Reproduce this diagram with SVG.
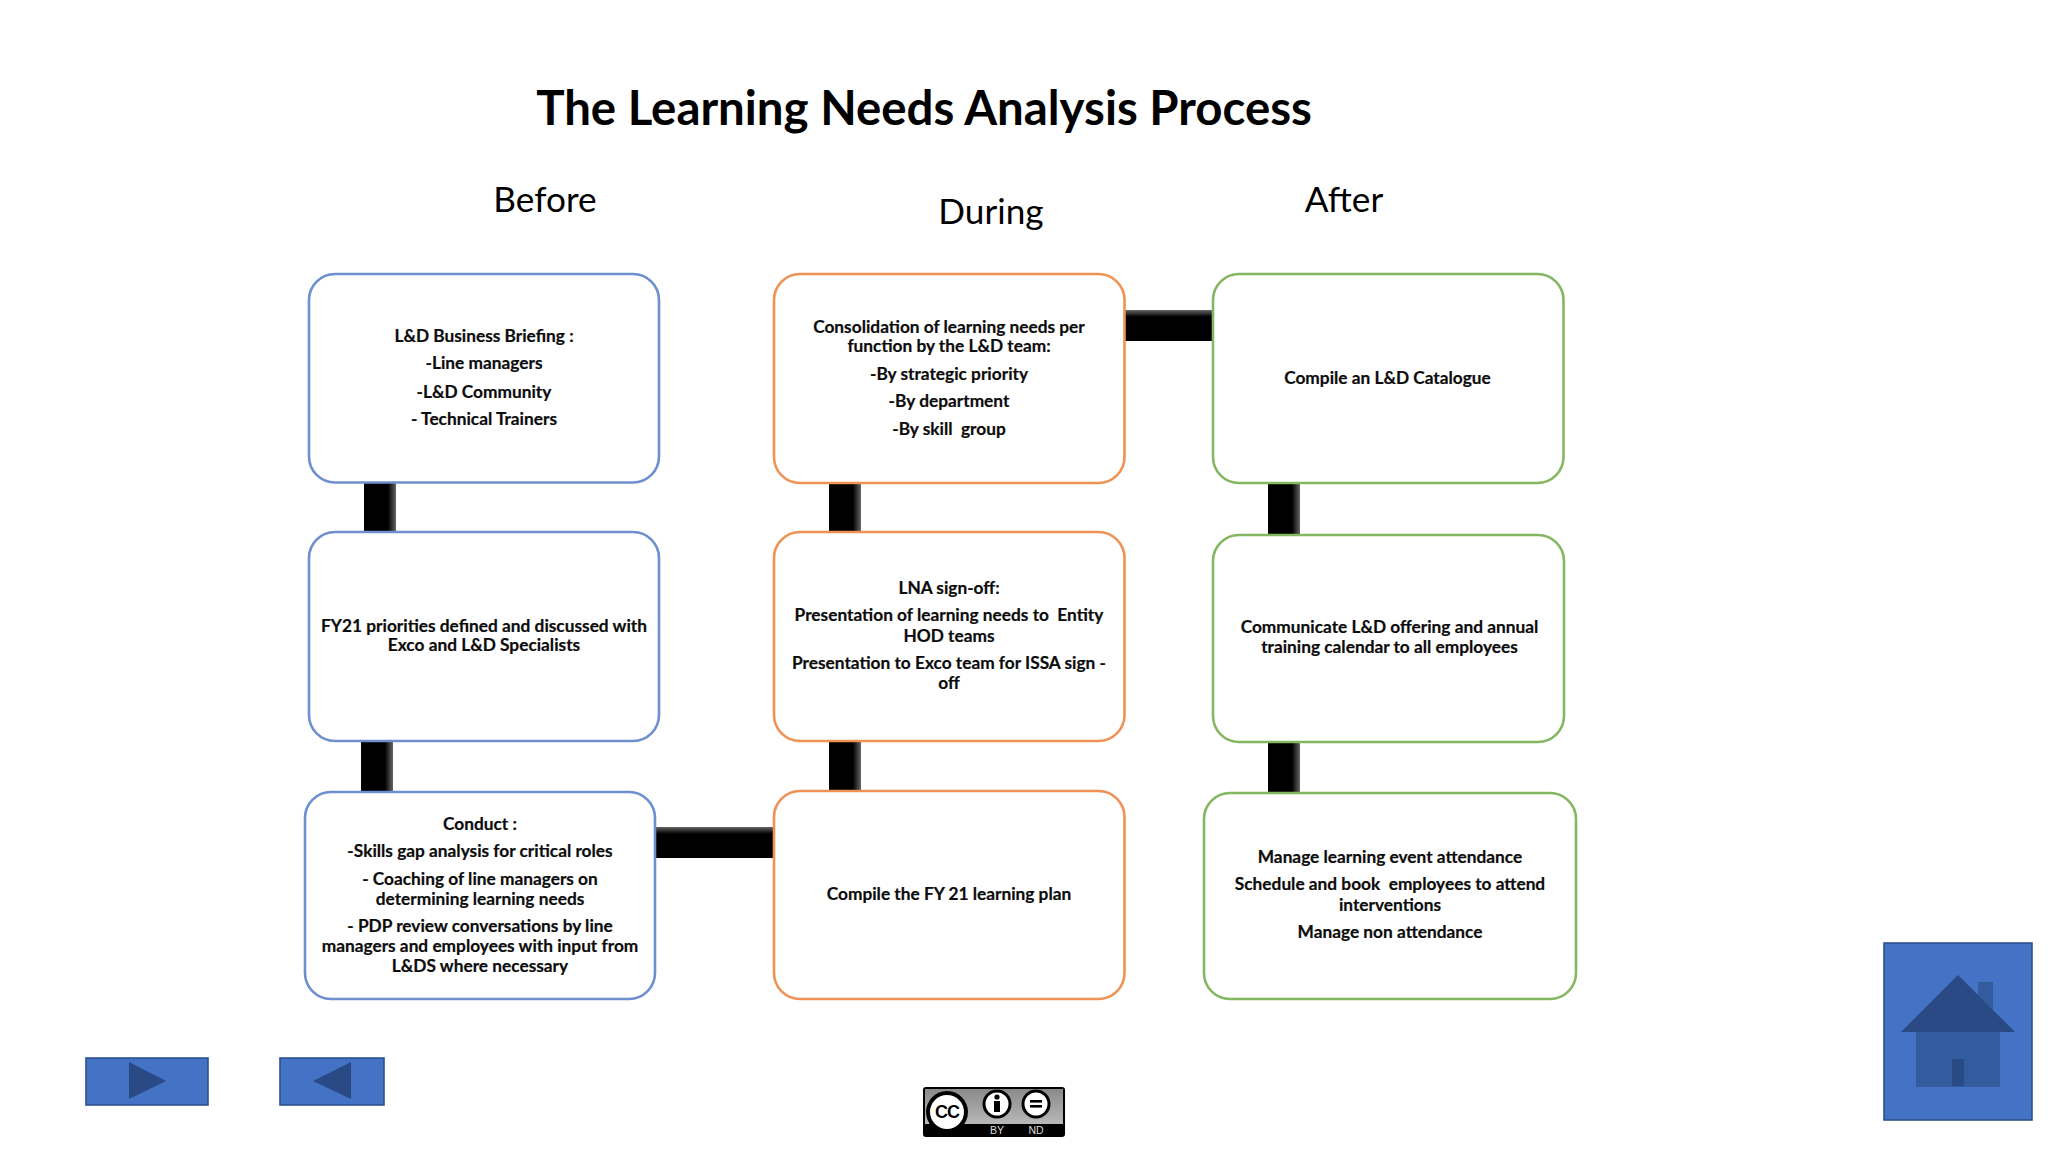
<svg xmlns="http://www.w3.org/2000/svg" width="2048" height="1152" viewBox="0 0 2048 1152">
<defs>
<linearGradient id="gv" x1="0" y1="0" x2="1" y2="0"><stop offset="0" stop-color="#000"/><stop offset="0.75" stop-color="#000"/><stop offset="1" stop-color="#666"/></linearGradient>
<linearGradient id="gh" x1="0" y1="0" x2="0" y2="1"><stop offset="0" stop-color="#666"/><stop offset="0.22" stop-color="#000"/><stop offset="1" stop-color="#000"/></linearGradient>
<linearGradient id="gs" x1="0" y1="0" x2="0" y2="1"><stop offset="0" stop-color="#8a8a8a"/><stop offset="1" stop-color="#b8b8b8"/></linearGradient>
</defs>
<style>
text{font-family:"Lato","Liberation Sans",sans-serif;fill:#000;text-anchor:middle;white-space:pre}
.t{font-size:47.4px;font-weight:700}
.h{font-size:35.2px}
.b{font-size:17.3px;font-weight:700;fill:#0c0c0c;stroke:#0c0c0c;stroke-width:.2px}
.n{fill:#fff;stroke-width:2.6}
.blue{stroke:#6e90cf}.orange{stroke:#ef9256}.green{stroke:#85b762}
.v{fill:url(#gv)}.hz{fill:url(#gh)}
.btn{fill:#4472c4;stroke:#2f528f;stroke-width:1.6}
.dk{fill:#2a4a85}.md{fill:#335c9e}
</style>
<rect width="2048" height="1152" fill="#fff"/>
<g id="title"><text class="t" x="924" y="125">The Learning Needs Analysis Process</text></g>
<g id="headers">
<text class="h" x="545" y="212">Before</text>
<text class="h" x="991" y="223.500">During</text>
<text class="h" x="1344" y="212">After</text>
</g>
<g id="connectors">
<rect class="v" x="364" y="483" width="32" height="49"/>
<rect class="v" x="361" y="741" width="32" height="50"/>
<rect class="hz" x="656" y="827" width="118" height="31"/>
<rect class="v" x="829" y="483" width="32" height="49"/>
<rect class="v" x="829" y="741" width="32" height="50"/>
<rect class="hz" x="1125" y="310" width="87" height="31"/>
<rect class="v" x="1268" y="483" width="32" height="51"/>
<rect class="v" x="1268" y="742" width="32" height="51"/>
</g>
<g id="b1"><rect class="n blue" x="309" y="274" width="350" height="208.500" rx="26"/>
<text class="b" x="484" y="341.500">L&amp;D Business Briefing :</text><text class="b" x="484" y="368.500">-Line managers</text><text class="b" x="484" y="397.500">-L&amp;D Community</text><text class="b" x="484" y="424.500">- Technical Trainers</text></g>
<g id="b2"><rect class="n blue" x="309" y="532" width="350" height="209" rx="26"/>
<text class="b" x="484" y="631.500">FY21 priorities defined and discussed with</text><text class="b" x="484" y="651">Exco and L&amp;D Specialists</text></g>
<g id="b3"><rect class="n blue" x="305" y="792" width="350" height="207" rx="26"/>
<text class="b" x="480" y="829.500">Conduct :</text><text class="b" x="480" y="856.500">-Skills gap analysis for critical roles</text><text class="b" x="480" y="884.500">- Coaching of line managers on</text><text class="b" x="480" y="904.500">determining learning needs</text><text class="b" x="480" y="932">- PDP review conversations by line</text><text class="b" x="480" y="952">managers and employees with input from</text><text class="b" x="480" y="972">L&amp;DS where necessary</text></g>
<g id="o1"><rect class="n orange" x="774" y="274" width="350.500" height="209" rx="26"/>
<text class="b" x="949" y="332.500">Consolidation of learning needs per</text><text class="b" x="949" y="351.500">function by the L&amp;D team:</text><text class="b" x="949" y="379.500">-By strategic priority</text><text class="b" x="949" y="407">-By department</text><text class="b" x="949" y="434.500">-By skill  group</text></g>
<g id="o2"><rect class="n orange" x="774" y="532" width="350.500" height="209" rx="26"/>
<text class="b" x="949" y="594">LNA sign-off:</text><text class="b" x="949" y="620.500">Presentation of learning needs to  Entity</text><text class="b" x="949" y="641.500">HOD teams</text><text class="b" x="949" y="668.500">Presentation to Exco team for ISSA sign -</text><text class="b" x="949" y="688.500">off</text></g>
<g id="o3"><rect class="n orange" x="774" y="791" width="350.500" height="208" rx="26"/>
<text class="b" x="949" y="899.500">Compile the FY 21 learning plan</text></g>
<g id="g1"><rect class="n green" x="1213" y="274" width="350.500" height="209" rx="26"/>
<text class="b" x="1387.500" y="383.500">Compile an L&amp;D Catalogue</text></g>
<g id="g2"><rect class="n green" x="1213" y="535" width="351" height="207" rx="26"/>
<text class="b" x="1389.500" y="632.500">Communicate L&amp;D offering and annual</text><text class="b" x="1389.500" y="652.500">training calendar to all employees</text></g>
<g id="g3"><rect class="n green" x="1204" y="793" width="372" height="206" rx="26"/>
<text class="b" x="1390" y="862.500">Manage learning event attendance</text><text class="b" x="1390" y="889.500">Schedule and book  employees to attend</text><text class="b" x="1390" y="910.500">interventions</text><text class="b" x="1390" y="937.500">Manage non attendance</text></g>
<g id="next"><rect class="btn" x="86" y="1058" width="122" height="47"/><polygon class="dk" points="129,1062 129,1099 166,1081"/></g>
<g id="prev"><rect class="btn" x="280" y="1058" width="104" height="47"/><polygon class="dk" points="351,1062 351,1099 313,1081"/></g>
<g id="home"><rect class="btn" x="1884" y="943" width="148" height="177"/>
<rect class="md" x="1978" y="982" width="15" height="34"/>
<rect class="md" x="1916" y="1032" width="84" height="55"/>
<polygon class="dk" points="1958,975 2015,1032 1901,1032"/>
<rect class="dk" x="1952" y="1059" width="12" height="27"/></g>
<g id="cc-badge">
<rect x="923" y="1087" width="142" height="50" rx="3" fill="#000"/>
<rect x="925" y="1089" width="138" height="35" fill="url(#gs)"/>
<circle cx="947" cy="1112" r="21" fill="#000"/><circle cx="947" cy="1112" r="17" fill="#fff"/>
<text x="947" y="1118" style="font-family:'Liberation Sans',sans-serif;font-size:18px;font-weight:700;letter-spacing:-1px">CC</text>
<circle cx="997" cy="1104" r="13" fill="#fff" stroke="#000" stroke-width="3"/>
<circle cx="997" cy="1097" r="2.6" fill="#000"/><rect x="994" y="1101" width="6" height="11" fill="#000"/>
<circle cx="1036" cy="1104" r="13" fill="#fff" stroke="#000" stroke-width="3"/>
<rect x="1030" y="1100" width="12" height="2.6" fill="#000"/><rect x="1030" y="1105" width="12" height="2.6" fill="#000"/>
<text x="997" y="1134" style="font-family:'Liberation Sans',sans-serif;font-size:10.500px;fill:#ddd">BY</text>
<text x="1036" y="1134" style="font-family:'Liberation Sans',sans-serif;font-size:10.500px;fill:#ddd">ND</text>
</g>
</svg>
